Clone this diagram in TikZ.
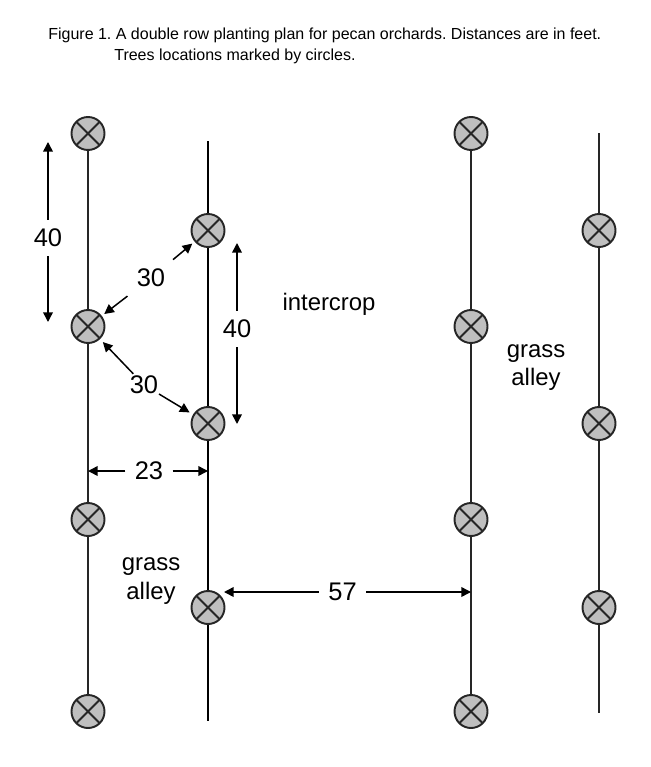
\documentclass[tikz,border=0pt]{standalone}
\usepackage{fontspec}
\setmainfont{Liberation Sans}
\usetikzlibrary{positioning,arrows.meta}

\tikzset{
    tree/.style={circle, draw=black!85, fill=black!25, line width=1.1pt, minimum size=0.66cm, inner sep=0pt,
        path picture={
            \draw[black!85, line width=1.1pt] (path picture bounding box.north west) -- (path picture bounding box.south east);
            \draw[black!85, line width=1.1pt] (path picture bounding box.north east) -- (path picture bounding box.south west);
        }},
    row/.style={draw=black!85, line width=1.1pt},
    dim/.style={draw=black, line width=0.85pt, -{Triangle[length=5.5pt,width=5.5pt]}},
    num/.style={font=\fontsize{14.5}{17}\selectfont, inner sep=0.18cm},
    word/.style={font=\fontsize{13.6}{16}\selectfont, align=center, inner sep=0pt},
    caption/.style={font=\fontsize{9.1}{11}\selectfont\frenchspacing, anchor=west, inner sep=0pt}
}

\begin{document}
\begin{tikzpicture}[on grid]
        \useasboundingbox (0,0) rectangle (13,-15.34);

        \node[caption](title) at (0.96,-0.71){Figure 1. A double row planting plan for pecan orchards. Distances are in feet.};
        \node[caption](titleb) at (2.28,-1.13){Trees locations marked by circles.};

        \node[tree](a1) at (1.76,-2.67){};
        \node[tree, below = 3.86cm of a1](a2){};
        \node[tree, below = 3.86cm of a2](a3){};
        \node[tree, below = 3.84cm of a3](a4){};

        \node[tree, below right = 1.94cm and 2.4cm of a1](b1){};
        \node[tree, below = 3.86cm of b1](b2){};
        \node[tree, below = 3.68cm of b2](b3){};
        \coordinate[above = 1.78cm of b1](btop);
        \coordinate[below = 2.26cm of b3](bend);

        \node[tree, right = 7.66cm of a1](c1){};
        \node[tree, below = 3.86cm of c1](c2){};
        \node[tree, below = 3.86cm of c2](c3){};
        \node[tree, below = 3.84cm of c3](c4){};

        \node[tree, right = 7.82cm of b1](d1){};
        \node[tree, below = 3.86cm of d1](d2){};
        \node[tree, below = 3.68cm of d2](d3){};
        \coordinate[above = 1.94cm of d1](dtop);
        \coordinate[below = 2.10cm of d3](dend);

        \draw[row] (a1) -- (a2) -- (a3) -- (a4);
        \draw[row, draw=black] (btop) -- (b1) -- (b2) -- (b3) -- (bend);
        \draw[row] (c1) -- (c2) -- (c3) -- (c4);
        \draw[row] (dtop) -- (d1) -- (d2) -- (d3) -- (dend);

        \node[num](forty) at (0.96,-4.76){40};
        \coordinate[above = 1.92cm of forty](fortyup);
        \coordinate[below = 1.68cm of forty](fortydown);
        \draw[dim] (forty) -- (fortyup);
        \draw[dim] (forty) -- (fortydown);

        \node[num](fortyb) at (4.74,-6.58){40};
        \coordinate[above = 1.72cm of fortyb](fortybup);
        \coordinate[below = 1.90cm of fortyb](fortybdown);
        \draw[dim] (fortyb) -- (fortybup);
        \draw[dim] (fortyb) -- (fortybdown);

        \node[num](thirty) at (3.02,-5.56){30};
        \draw[dim, shorten >=0.06cm] (thirty) -- (b1);
        \draw[dim, shorten >=0.06cm] (thirty) -- (a2);

        \node[num](thirtyb) at (2.88,-7.70){30};
        \draw[dim, shorten <=-0.2cm, shorten >=0.08cm] (thirtyb) -- (a2);
        \draw[dim, shorten <=-0.2cm, shorten >=0.08cm] (thirtyb) -- (b2);

        \node[num](twenty) at (2.98,-9.42){23};
        \draw[dim] (twenty) -- (a2 |- twenty);
        \draw[dim] (twenty) -- (b2 |- twenty);

        \node[num](fifty) at (6.85,-11.84){57};
        \draw[dim, shorten >=0.32cm] (fifty) -- (b3 |- fifty);
        \draw[dim] (fifty) -- (c3 |- fifty);

        \node[word](intercrop) at (6.58,-6.08){intercrop};
        \node[word](alley) at (10.72,-7.35){grass\\alley};
        \node[word](alleyb) at (3.02,-11.62){grass\\alley};
    \end{tikzpicture}
\end{document}
